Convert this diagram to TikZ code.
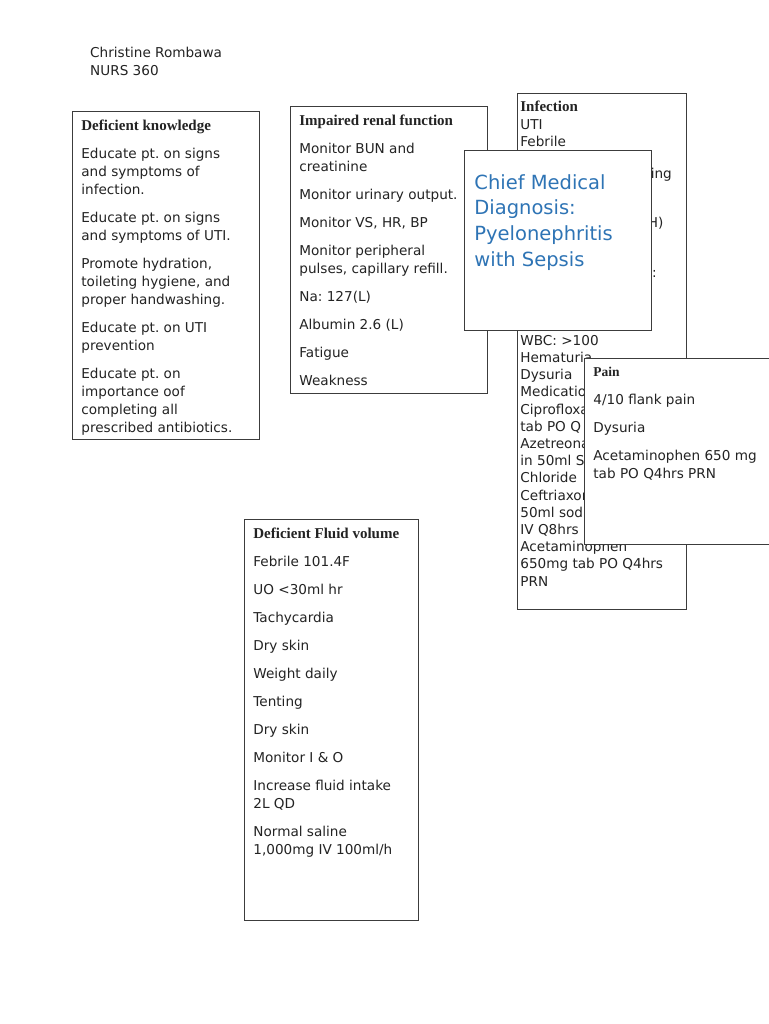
\documentclass[tikz,border=0pt]{standalone}
\usepackage{fontspec}
\setmainfont{DejaVu Sans}
\newfontfamily\headfont{Liberation Serif}
\frenchspacing
\definecolor{chiefblue}{RGB}{46,116,181}
\definecolor{cardgray}{RGB}{60,60,60}
\definecolor{inkgray}{RGB}{35,35,35}
\newcommand{\bodysize}{\fontsize{13.6}{18}\selectfont}
\newcommand{\cardtext}[3]{\parbox[t][#2][t]{#1}{\raggedright\frenchspacing\bodysize\setlength{\parskip}{10pt}#3}}
\newcommand{\cardhead}[2][15]{{\headfont\bfseries\fontsize{#1}{18}\selectfont #2\par}}

\begin{document}
\begin{tikzpicture}[x=1pt,y=-1pt,
  card/.style={draw=cardgray,line width=.8pt,fill=white,text=inkgray,anchor=north west,inner sep=9pt},
  frag/.style={text=inkgray,font=\bodysize,inner sep=0pt}]
\useasboundingbox[fill=white] (0,0) rectangle (768,1024);
% care plan boxes
\node[card] (knowledge) at (72,111) {\cardtext{169pt}{310pt}{\cardhead{Deficient knowledge}
Educate pt. on signs\\and symptoms of\\infection.\par
Educate pt. on signs\\and symptoms of UTI.\par
Promote hydration,\\toileting hygiene, and\\proper handwashing.\par
Educate pt. on UTI\\prevention\par
Educate pt. on\\importance oof\\completing all\\prescribed antibiotics.}};
\node[card] (renal) at (290,106) {\cardtext{179pt}{269pt}{\cardhead{Impaired renal function}
Monitor BUN and\\creatinine\par
Monitor urinary output.\par
Monitor VS, HR, BP\par
Monitor peripheral\\pulses, capillary refill.\par
Na: 127(L)\par
Albumin 2.6 (L)\par
Fatigue\par
Weakness}};
\node[card,inner xsep=3pt,inner ysep=8pt] (infection) at (517,93) {\cardtext{163pt}{500pt}{\fontsize{13.6}{17.2}\selectfont
{\headfont\bfseries\fontsize{15}{17.2}\selectfont Infection}\\UTI\\Febrile\\[181.8pt]
WBC: >100\\Hematuria\\Dysuria\\Medications:\\Ciprofloxacin\\tab PO Q\\Azetreonam\\in 50ml Sodium\\Chloride\\Ceftriaxone\\50ml sodium\\IV Q8hrs\\Acetaminophen\\650mg tab PO Q4hrs\\PRN}};
\node[frag,anchor=base east] (fragA) at (672,179) {ing};
\node[frag,anchor=base east] (fragB) at (663.5,227) {H)};
\node[frag,anchor=base west] (fragC) at (652,277) {:};
% diagnosis on top
\node[card,inner xsep=10pt] (chief) at (464,150) {\cardtext{167pt}{162pt}{\vspace*{5pt}\color{chiefblue}\fontsize{19.5}{25.7}\selectfont
Chief Medical\\Diagnosis:\\Pyelonephritis\\with Sepsis}};
\node[card] (pain) at (584,358) {\cardtext{200pt}{168pt}{\cardhead[13.5]{Pain}
4/10 flank pain\par
Dysuria\par
Acetaminophen 650 mg\\tab PO Q4hrs PRN}};
\node[card] (fluid) at (244,519) {\cardtext{156pt}{383pt}{\cardhead{Deficient Fluid volume}
Febrile 101.4F\par
UO <30ml hr\par
Tachycardia\par
Dry skin\par
Weight daily\par
Tenting\par
Dry skin\par
Monitor I \& O\par
Increase fluid intake\\2L QD\par
Normal saline\\1,000mg IV 100ml/h}};
\node[anchor=base west,align=left,font=\bodysize,text=inkgray,inner sep=0pt] (author) at (90,76) {Christine Rombawa\\NURS 360};
\end{tikzpicture}
\end{document}
